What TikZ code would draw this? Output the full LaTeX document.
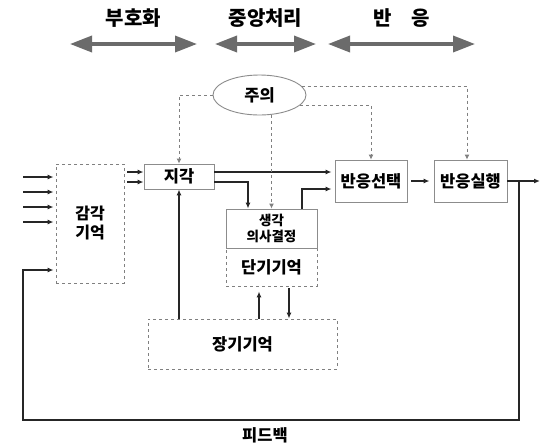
\documentclass[tikz,border=0pt]{standalone}
\usepackage{fontspec}
\setmainfont{Noto Sans CJK KR}
\usetikzlibrary{arrows.meta,shapes.geometric}

\begin{document}
\begin{tikzpicture}[
  x=1pt, y=-1pt,
  font=\bfseries\fontsize{16.5}{19}\selectfont,
  phase/.style={font=\bfseries\fontsize{20}{22}\selectfont},
  stage/.style={draw=boxLine, line width=0.9pt, inner sep=0pt, align=center},
  store/.style={draw=dashLine, line width=0.9pt, dash pattern=on 3pt off 3pt, inner sep=0pt, align=center},
  span/.style={draw=spanGray, line width=3.5pt, {Triangle[length=22pt,width=16pt]}-{Triangle[length=22pt,width=16pt]}},
  flow/.style={draw=arrowDark, line width=1.2pt, -{Latex[length=6pt,width=5pt]}},
  attend/.style={draw=dashLine, line width=0.9pt, dash pattern=on 3pt off 3pt, -{Latex[length=5pt,width=5pt]}},
]

\definecolor{boxLine}{gray}{0.55}
\definecolor{dashLine}{gray}{0.5}
\definecolor{spanGray}{gray}{0.42}
\definecolor{arrowDark}{gray}{0.15}

\path[fill=white] (0,0) rectangle (550,448);
\useasboundingbox (0,0) rectangle (550,448);

% Phase headers and their spans.
\foreach \name/\lab/\xa/\xb in {enc/부호화/70/197, cen/중앙처리/215/316, res/반\quad 응/328/475} {
  \node[phase] (\name) at ({(\xa+\xb)/2},18) {\lab};
  \draw[span] (\xa,44) -- (\xb,44);
}

% Stages.
\node[draw=boxLine, line width=0.9pt, ellipse, minimum width=93pt, minimum height=40pt, inner sep=0pt] (attn) at (259.5,95) {주의};
\node[store, minimum width=68pt, minimum height=119pt, font=\bfseries\fontsize{16}{19}\selectfont] (sensory) at (90,223.5) {감각\\기억};
\node[stage, minimum width=70pt, minimum height=25pt] (percep) at (179,176.5) {지각};
\node[store, minimum width=91pt, minimum height=38pt] (stm) at (271.5,267) {단기기억};
\node[stage, minimum width=91pt, minimum height=39pt, font=\bfseries\fontsize{13.5}{16}\selectfont] (think) at (271.5,228.5) {생각\\의사결정};
\node[stage, minimum width=72pt, minimum height=42pt] (select) at (371,181) {반응선택};
\node[stage, minimum width=73pt, minimum height=42pt] (exec) at (470.5,181) {반응실행};
\node[store, minimum width=189pt, minimum height=50pt] (ltm) at (242.5,344) {장기기억};
\node (fblabel) at (265,435) {피드백};

% Inputs.
\foreach \y [count=\i] in {177,192,207,222} {
  \coordinate (in\i) at (23,\y);
  \draw[flow, shorten >=2pt] (in\i) -- (in\i -| sensory.west);
}

% Sensory memory to perception.
\path ([yshift=4.5pt]percep.west) coordinate (pw1) ([yshift=-5.5pt]percep.west) coordinate (pw2);
\draw[flow, shorten <=3pt] (pw1 -| sensory.east) -- (pw1);
\draw[flow, shorten <=3pt] (pw2 -| sensory.east) -- (pw2);

% Perception onwards.
\path ([yshift=4.5pt]percep.east) coordinate (pe1) ([yshift=-5.5pt]percep.east) coordinate (pe2);
\draw[flow, shorten >=3pt] (pe1) -- (pe1 -| select.west);
\draw[flow] (pe2) -| ([xshift=-23.5pt]think.north);
\draw[flow, shorten >=3pt] ([xshift=30.5pt]think.north) |- ([yshift=-8pt]select.west);
\draw[flow, shorten <=4pt, shorten >=4pt] (select) -- (exec);
\coordinate (out) at (540,181);
\draw[flow] (exec) -- (out);

% Long-term memory links.
\draw[flow] (ltm.north -| percep.south) -- (percep.south);
\draw[flow, shorten >=5pt] ([xshift=-12.5pt]ltm.north -| stm.south) -- ([xshift=-12.5pt]stm.south);
\draw[flow, shorten <=2pt] ([xshift=17.5pt]stm.south) -- ([xshift=17.5pt]stm.south |- ltm.north);

% Feedback.
\coordinate (fb) at (519,181);
\coordinate (fbR) at (519,420);
\coordinate (fbL) at (23,420);
\draw[flow, shorten >=2pt] (fb) -- (fbR) -- (fbL) |- ([yshift=-46.5pt]sensory.west);

% Attention.
\draw[attend] (attn.west) -| (percep.north);
\draw[attend] (think.north |- attn.south) -- (think.north);
\draw[attend] (attn.-14) -| (select.north);
\draw[attend] (attn.12) -| ([xshift=-3.5pt]exec.north);

\end{tikzpicture}
\end{document}
